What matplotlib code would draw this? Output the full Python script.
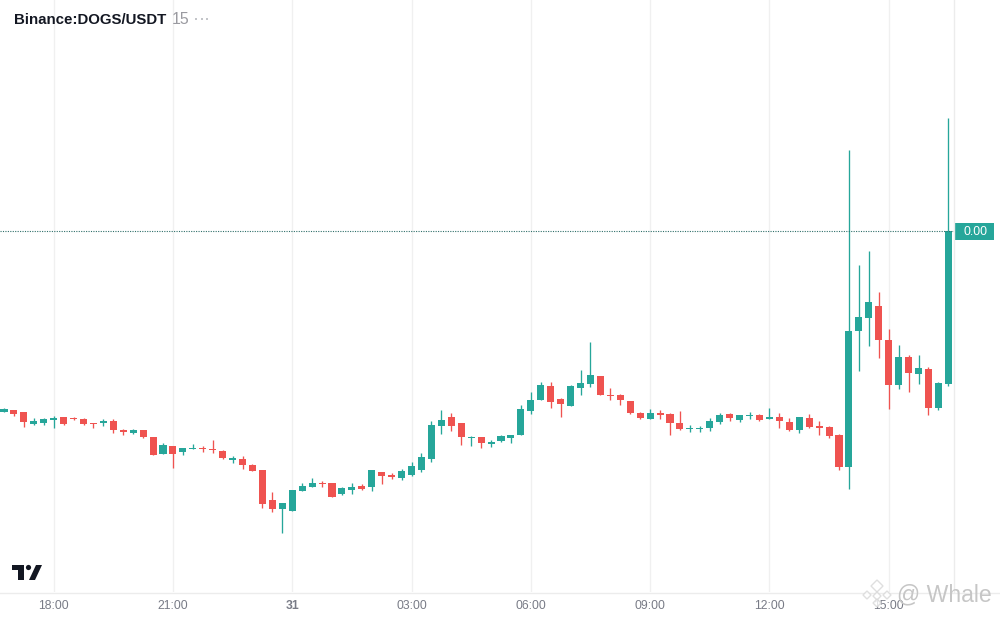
import matplotlib
matplotlib.use("Agg")
import matplotlib.pyplot as plt
from matplotlib.patches import Polygon, Circle, Rectangle

title = "Binance:DOGS/USDT"
interval = "15"
last_label = "0.00"
tick_positions = [0, 12, 24, 36, 48, 60, 72, 84]
tick_labels = ["18:00", "21:00", "31", "03:00", "06:00", "09:00", "12:00", "15:00"]
first_bar = -5

opens = [188,190,188,176,177,180,183,182,181,177,177,179,170,167,170,163,146,154,148,151,152,151,149,140,141,135,130,100,91,89,
         109,113,117,117,106,110,114,113,128,125,122,125,130,141,174,183,177,162,163,156,159,162,165,189,200,214,201,194,212,216,
         224,205,205,199,187,181,187,186,177,171,171,172,178,186,180,184,185,181,183,178,170,182,174,173,165,133,269,282,294,260,
         215,243,226,231,192,216]
highs = [192,190,188,182,182,184,183,183,182,177,181,181,171,171,170,163,157,154,152,156,154,160,150,144,144,136,130,108,97,110,
         117,122,119,117,113,117,116,130,128,127,131,138,147,179,190,187,177,164,163,160,165,165,195,208,218,218,202,215,230,258,
         224,212,206,199,188,191,190,187,189,175,174,182,187,187,185,188,186,192,187,182,183,186,179,174,166,450,335,349,308,271,
         255,245,245,233,218,482]
lows = [188,184,173,175,175,172,175,180,175,172,174,167,165,166,162,145,146,132,145,151,148,147,141,137,131,129,92,88,67,89,
        109,113,113,103,105,106,110,109,116,121,120,124,128,138,166,169,155,154,152,153,158,157,165,186,200,192,183,194,205,213,
        205,200,195,186,181,181,181,165,170,168,168,169,176,179,178,181,179,181,172,169,167,172,165,162,130,111,229,254,242,191,
        211,208,216,185,190,214]
closes = [191,186,178,179,181,182,176,181,176,176,179,170,168,170,163,145,155,146,152,152,151,150,142,142,135,129,96,91,97,110,
          114,117,116,103,112,113,111,130,124,123,129,134,143,175,180,174,163,163,157,158,164,165,191,200,215,198,196,214,217,225,
          205,204,200,187,182,187,185,177,171,172,172,179,185,182,185,185,180,183,179,170,183,173,172,164,133,269,283,298,260,215,
          243,227,232,192,217,369]

GREEN = "#26a69a"
RED = "#ef5350"
GRID = "#f0f0f0"
TEXT = "#787b86"
W, H = 1000, 620
AXIS_X, AXIS_Y = 954, 592

fig = plt.figure(figsize=(W / 100, H / 100), dpi=100, facecolor="white")
plt.rcParams["font.family"] = ["Liberation Sans", "DejaVu Sans"]

ax = fig.add_axes([0, 1 - AXIS_Y / H, AXIS_X / W, AXIS_Y / H])
ax.set_xlim(-5.40, 90.57)
ax.set_ylim(8, 600)
for s in ax.spines.values():
    s.set_visible(False)
ax.set_yticks([])
ax.set_xticks(tick_positions)
ax.set_xticklabels(tick_labels, fontsize=8.8, color=TEXT)
ax.get_xticklabels()[2].set_fontweight("bold")
ax.tick_params(axis="x", length=0, pad=5.5)
ax.grid(axis="x", color=GRID, lw=1)
ax.set_axisbelow(True)

xs = [first_bar + k for k in range(len(opens))]
colors = [GREEN if c >= o else RED for o, c in zip(opens, closes)]
wicks = ax.vlines(xs, lows, highs, colors=colors, lw=0.95, zorder=2)
wicks.set_snap(True)
ax.bar(xs, [abs(c - o) for o, c in zip(opens, closes)],
       bottom=[min(o, c) for o, c in zip(opens, closes)],
       width=0.71, color=colors, lw=0, zorder=3)
ax.axhline(closes[-1], color="#2f6f6a", lw=0.8, ls=(0, (1, 1.2)), zorder=4)

# overlay in pixel coordinates for furniture: axis borders, logo, price tag, watermark
ov = fig.add_axes([0, 0, 1, 1], facecolor="none")
ov.set_xlim(0, W)
ov.set_ylim(H, 0)
ov.axis("off")
ov.plot([0, W], [AXIS_Y + .5, AXIS_Y + .5], color="#ececec", lw=1)
ov.plot([AXIS_X, AXIS_X], [0, AXIS_Y], color="#ececec", lw=1)

ov.text(14, 19.5, title, fontsize=10.8, fontweight="bold", color="#131722", va="center", ha="left")
ov.text(172, 19.5, interval, fontsize=11.4, color="#9a9aa0", va="center", ha="left")
for x in (196, 202, 207):
    ov.add_patch(Circle((x, 19), 0.8, color="#8a8d96", lw=0))

# price tag
ov.add_patch(Rectangle((954, 223), 40, 17, color=GREEN, lw=0))
ov.text(987, 232, last_label, fontsize=8.9, color="white", va="center", ha="right")

# logo
LOGO = "#131722"
ov.add_patch(Polygon([(12, 565), (24, 565), (24, 580), (18, 580), (18, 570), (12, 570)], color=LOGO, lw=0))
ov.add_patch(Circle((28.5, 567.5), 2.6, color=LOGO, lw=0))
ov.add_patch(Polygon([(36, 565), (42, 565), (35, 580), (29, 580)], color=LOGO, lw=0))

# watermark
WM = "#d8d8d8"
for cx, cy, r in [(877, 586, 6), (867, 595, 4), (887, 595, 4), (877, 596, 4), (877, 603, 4)]:
    ov.add_patch(Polygon([(cx - r, cy), (cx, cy - r), (cx + r, cy), (cx, cy + r)],
                         facecolor="white", edgecolor=WM, lw=1, zorder=6, alpha=0.8))
ov.text(897, 595, "@ Whale", fontsize=16.6, color="#c6c6c6", va="center", ha="left", zorder=7)

fig.savefig("out.png", dpi=100, facecolor="white")
